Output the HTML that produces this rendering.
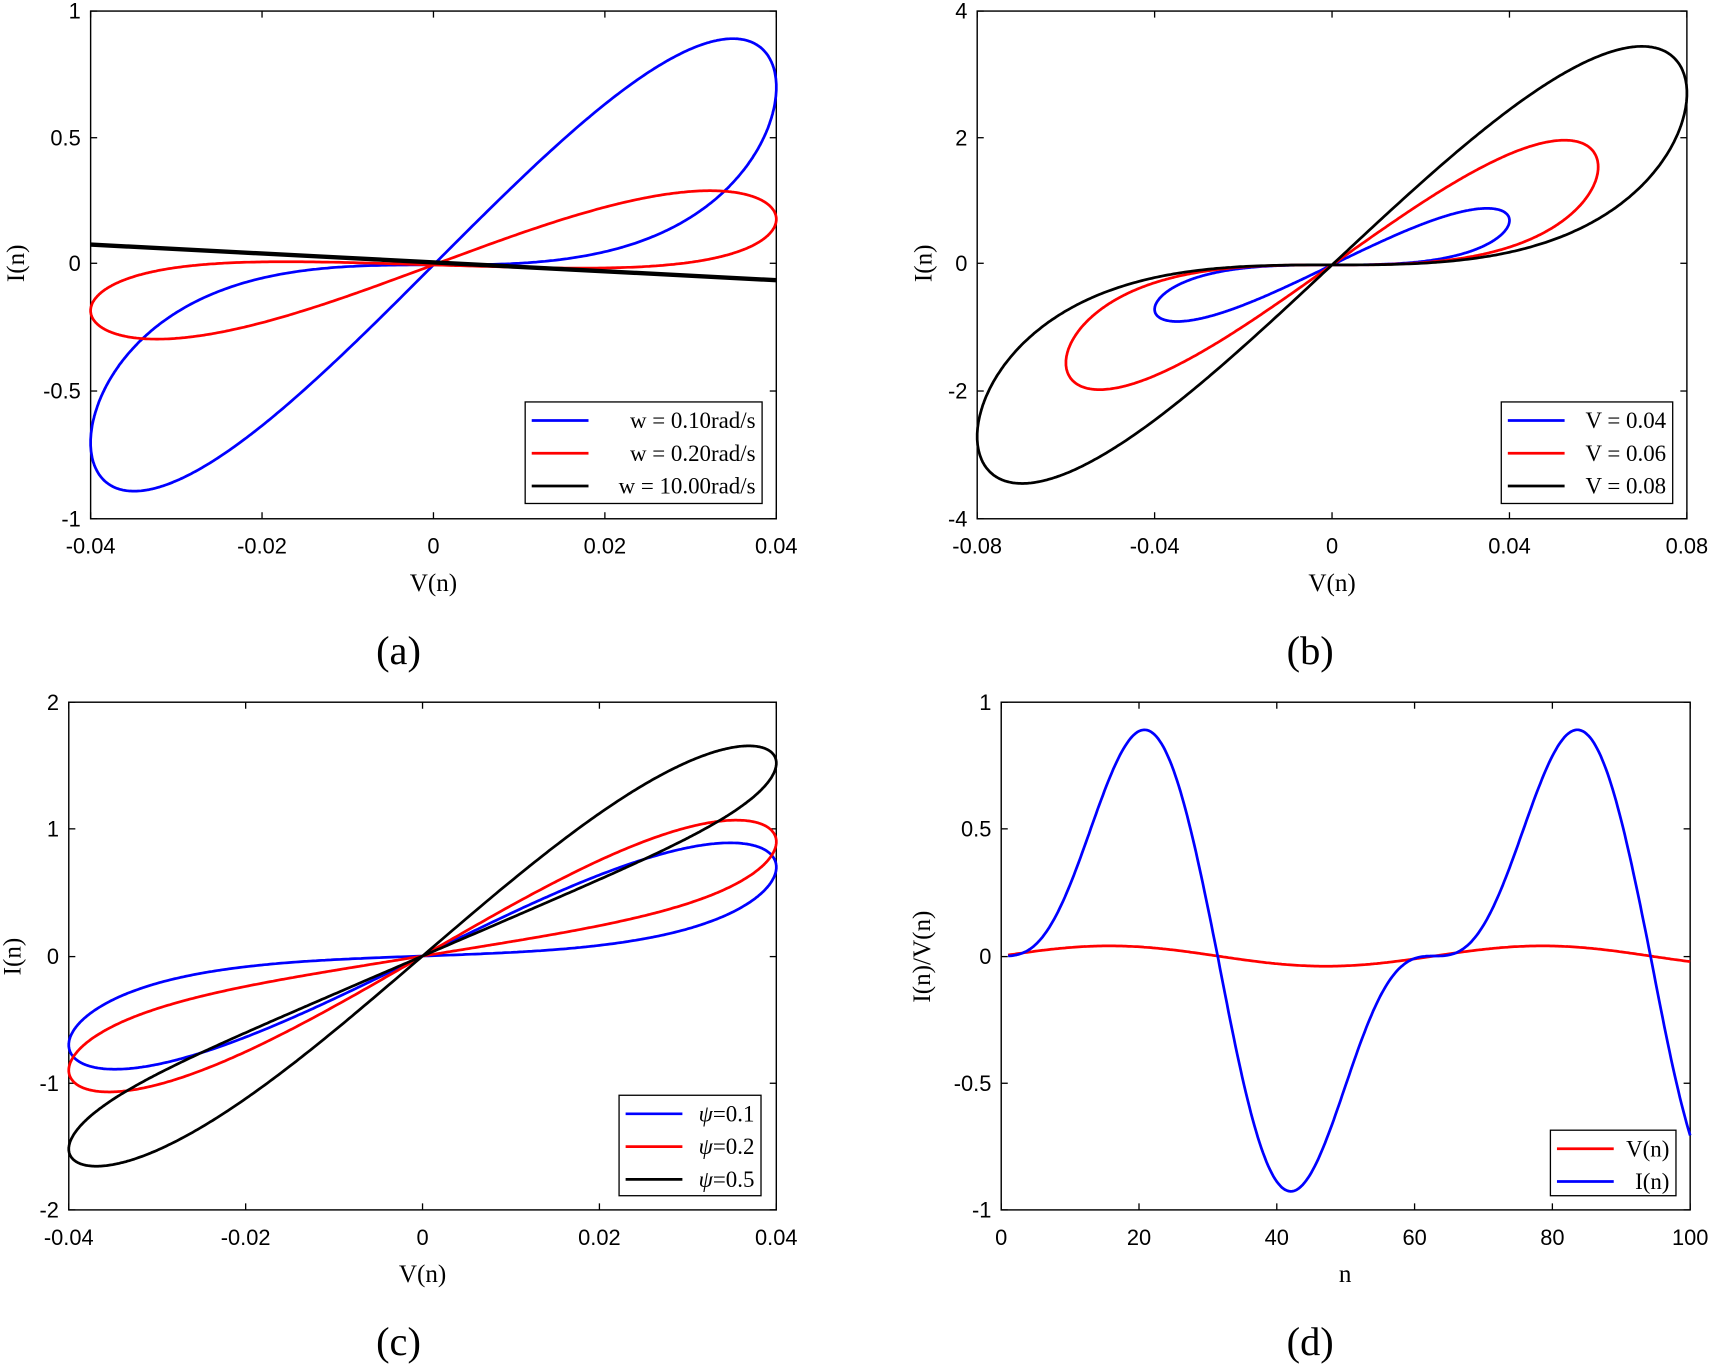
<!DOCTYPE html>
<html><head><meta charset="utf-8">
<style>
html,body{margin:0;padding:0;background:#fff;}
svg{display:block;}
.tk{font-family:"Liberation Sans",Arial,sans-serif;font-size:20px;fill:#000;}
.ax{font-family:"Liberation Serif","Times New Roman",serif;font-size:23px;fill:#000;}
.pl{font-family:"Liberation Serif","Times New Roman",serif;font-size:37px;fill:#000;}
.lg{font-family:"Liberation Serif","Times New Roman",serif;font-size:21px;fill:#000;}
</style></head>
<body>
<svg id="s" xmlns="http://www.w3.org/2000/svg" width="1712" height="1364" viewBox="0 0 1568 1249">
<rect width="1568" height="1249" fill="#fff"/>
<g id="g"></g>
</svg>
<script>
var g=document.getElementById('g');var out='';
function ax(P){
 out+='<rect x="'+P.x0+'" y="'+P.y0+'" width="'+(P.x1-P.x0)+'" height="'+(P.y1-P.y0)+'" fill="none" stroke="#000" stroke-width="1.3"/>';
 P.xt.forEach(function(t){out+='<line x1="'+t[0]+'" y1="'+P.y1+'" x2="'+t[0]+'" y2="'+(P.y1-6)+'" stroke="#000" stroke-width="1.2"/><line x1="'+t[0]+'" y1="'+P.y0+'" x2="'+t[0]+'" y2="'+(P.y0+6)+'" stroke="#000" stroke-width="1.2"/>';
  out+='<text class="tk" x="'+t[0]+'" y="'+(P.y1+32)+'" text-anchor="middle">'+t[1]+'</text>';});
 P.yt.forEach(function(t){out+='<line x1="'+P.x0+'" y1="'+t[0]+'" x2="'+(P.x0+6)+'" y2="'+t[0]+'" stroke="#000" stroke-width="1.2"/><line x1="'+P.x1+'" y1="'+t[0]+'" x2="'+(P.x1-6)+'" y2="'+t[0]+'" stroke="#000" stroke-width="1.2"/>';
  out+='<text class="tk" x="'+(P.x0-9)+'" y="'+(t[0]+7)+'" text-anchor="end">'+t[1]+'</text>';});
}
function path(pts,col,w){var d='';pts.forEach(function(p,i){d+=(i?'L':'M')+p[0].toFixed(1)+' '+p[1].toFixed(1);});
 out+='<path d="'+d+'" fill="none" stroke="'+col+'" stroke-width="'+w+'" stroke-linejoin="round"/>';}
function loop(V,b,a,p,X,Y){
 var pts=[];for(var i=0;i<=720;i++){var t=i/720*2*Math.PI;var s=Math.sin(t);var k=V/0.04;var ph=k*(1-Math.cos(t));
  var I=k*s*(b+a*Math.pow(ph,p));pts.push([X(V*s),Y(I)]);}return pts;}
function legend(x,y,w,h,items){
 out+='<rect x="'+x+'" y="'+y+'" width="'+w+'" height="'+h+'" fill="#fff" stroke="#000" stroke-width="1.2"/>';
 items.forEach(function(it,i){var yy=y+17+i*30;out+='<line x1="'+(x+6)+'" y1="'+yy+'" x2="'+(x+58)+'" y2="'+yy+'" stroke="'+it[0]+'" stroke-width="2.5"/>';
 out+='<text class="lg" x="'+(x+w-6)+'" y="'+(yy+7)+'" text-anchor="end">'+it[1]+'</text>';});
}
// (a)
(function(){var x0=83,x1=711,y0=10,y1=475;
 var X=function(v){return x0+(v+0.04)/0.08*(x1-x0);},Y=function(i){return y0+(1-i)/2*(y1-y0);};
 ax({x0:x0,x1:x1,y0:y0,y1:y1,xt:[[83,'-0.04'],[240,'-0.02'],[397,'0'],[554,'0.02'],[711,'0.04']],yt:[[10,'1'],[126,'0.5'],[241,'0'],[358,'-0.5'],[475,'-1']]});
 path(loop(0.04,0,0.7,0.95,X,Y),'#00f',2.5);
 path(loop(0.04,-0.04,0.22,1.3,X,Y),'#f00',2.5);
 path([[X(-0.04),Y(0.08)],[X(0.04),Y(-0.06)]],'#000',4);
 legend(481,368,217,93,[['#00f','w = 0.10rad/s'],['#f00','w = 0.20rad/s'],['#000','w = 10.00rad/s']]);
 out+='<text class="ax" x="397" y="541" text-anchor="middle">V(n)</text>';
 out+='<text class="ax" transform="translate(22,241) rotate(-90)" text-anchor="middle">I(n)</text>';
 out+='<text class="pl" x="365" y="608" text-anchor="middle">(a)</text>';})();
// (b)
(function(){var x0=895,x1=1545,y0=10,y1=475;
 var X=function(v){return x0+(v+0.08)/0.16*(x1-x0);},Y=function(i){return y0+(4-i)/8*(y1-y0);};
 ax({x0:x0,x1:x1,y0:y0,y1:y1,xt:[[895,'-0.08'],[1057.5,'-0.04'],[1220,'0'],[1382.5,'0.04'],[1545,'0.08']],yt:[[10,'4'],[126,'2'],[241,'0'],[358,'-2'],[475,'-4']]});
 path(loop(0.04,0,0.7,0.95,X,Y),'#00f',2.5);
 path(loop(0.06,0,0.7,0.95,X,Y),'#f00',2.5);
 path(loop(0.08,0,0.7,0.95,X,Y),'#000',2.5);
 legend(1375,368,157,93,[['#00f','V = 0.04'],['#f00','V = 0.06'],['#000','V = 0.08']]);
 out+='<text class="ax" x="1220" y="541" text-anchor="middle">V(n)</text>';
 out+='<text class="ax" transform="translate(853,241) rotate(-90)" text-anchor="middle">I(n)</text>';
 out+='<text class="pl" x="1200" y="608" text-anchor="middle">(b)</text>';})();
// (c)
(function(){var x0=63,x1=711,y0=643,y1=1108;
 var X=function(v){return x0+(v+0.04)/0.08*(x1-x0);},Y=function(i){return y0+(2-i)/4*(y1-y0);};
 ax({x0:x0,x1:x1,y0:y0,y1:y1,xt:[[63,'-0.04'],[225,'-0.02'],[387,'0'],[549,'0.02'],[711,'0.04']],yt:[[643,'2'],[759,'1'],[876,'0'],[992,'-1'],[1108,'-2']]});
 path(loop(0.04,0.1,0.6,1.08,X,Y),'#00f',2.5);
 path(loop(0.04,0.45,0.45,1.37,X,Y),'#f00',2.5);
 path(loop(0.04,1.2,0.32,1.9,X,Y),'#000',2.5);
 legend(567,1003,130,92,[['#00f','<tspan font-style="italic">ψ</tspan>=0.1'],['#f00','<tspan font-style="italic">ψ</tspan>=0.2'],['#000','<tspan font-style="italic">ψ</tspan>=0.5']]);
 out+='<text class="ax" x="387" y="1174" text-anchor="middle">V(n)</text>';
 out+='<text class="ax" transform="translate(19,876) rotate(-90)" text-anchor="middle">I(n)</text>';
 out+='<text class="pl" x="365" y="1241" text-anchor="middle">(c)</text>';})();
// (d)
(function(){var x0=917,x1=1548,y0=643,y1=1108;
 var X=function(n){return x0+n/100*(x1-x0);},Y=function(i){return y0+(1-i)/2*(y1-y0);};
 var xt=[];for(var k=0;k<=5;k++)xt.push([x0+k*(x1-x0)/5,String(k*20)]);
 ax({x0:x0,x1:x1,y0:y0,y1:y1,xt:xt,yt:[[643,'1'],[759,'0.5'],[876,'0'],[992,'-0.5'],[1108,'-1']]});
 var v=[],c=[];for(var n=1;n<=100;n+=0.25){var t=0.1*n,s=Math.sin(t),ph=1-Math.cos(t);v.push([X(n),Y(0.04*s)]);
  var I=s*0.7*Math.pow(ph,0.95); if(I<0) I*=1.04; c.push([X(n),Y(I)]);}
 path(v,'#f00',2.5);path(c,'#00f',2.5);
 legend(1420,1035,115,60,[['#f00','V(n)'],['#00f','I(n)']]);
 out+='<text class="ax" x="1232" y="1174" text-anchor="middle">n</text>';
 out+='<text class="ax" transform="translate(852,876) rotate(-90)" text-anchor="middle">I(n)/V(n)</text>';
 out+='<text class="pl" x="1200" y="1241" text-anchor="middle">(d)</text>';})();
g.innerHTML=out;
</script>
</body></html>
